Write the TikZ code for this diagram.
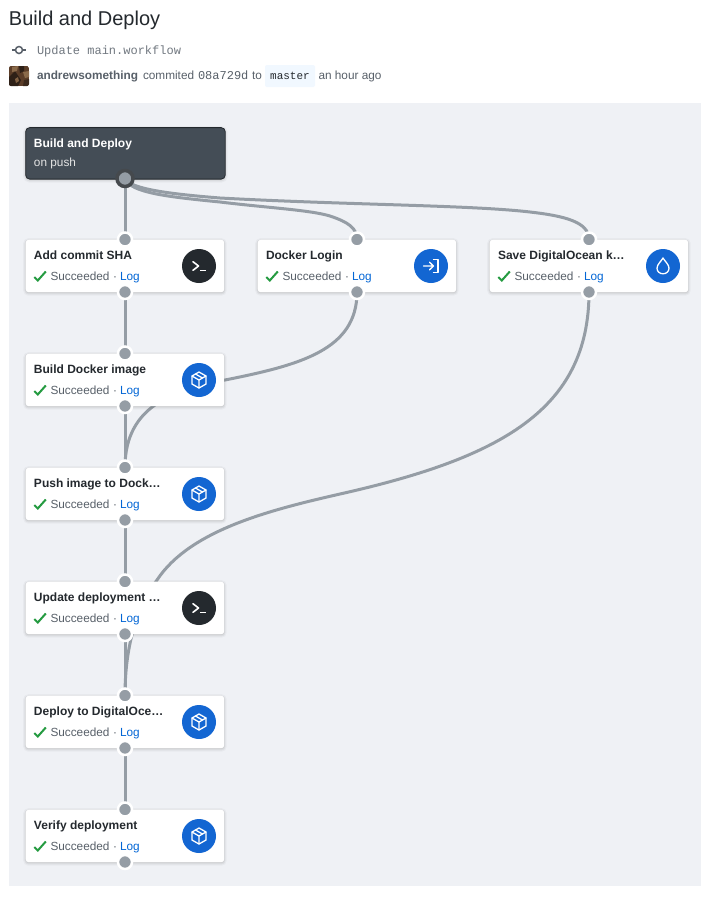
\documentclass[tikz,border=0pt]{standalone}
\usepackage{fontspec}
\setmainfont{Liberation Sans}
\setmonofont{Liberation Mono}
\usetikzlibrary{arrows.meta}
\pgfdeclarelayer{panel}
\pgfdeclarelayer{edges}
\pgfsetlayers{panel,edges,main}
\definecolor{panelbg}{HTML}{EFF1F5}
\definecolor{edgegrey}{HTML}{959DA5}
\definecolor{inkdark}{HTML}{24292E}
\definecolor{inkgrey}{HTML}{586069}
\definecolor{headbg}{HTML}{444D56}
\definecolor{iconblue}{HTML}{1366D2}
\definecolor{linkblue}{HTML}{0366D6}
\definecolor{okgreen}{HTML}{259B41}
\definecolor{chipbg}{HTML}{F1F8FF}
\definecolor{avbase}{HTML}{5B3D28}
\definecolor{avdark}{HTML}{2E2017}
\definecolor{avlight}{HTML}{8A6A4A}
\newcommand{\szfont}[1]{\fontsize{#1}{#1}\selectfont}
\tikzset{
  txt/.style={inner sep=0pt,outer sep=0pt,anchor=base west},
  softshadow/.style={
    preaction={draw=black,draw opacity=.03,line width=5pt,transform canvas={yshift=-1pt}},
    preaction={draw=black,draw opacity=.05,line width=2.5pt,transform canvas={yshift=-1pt}},
    preaction={draw=black,draw opacity=.06,line width=1pt,transform canvas={yshift=-.5pt}}},
  cardbox/.style={rectangle,rounded corners=3pt,fill=white,softshadow,minimum width=198.5pt,minimum height=52.5pt,inner sep=0pt,anchor=north west},
  headbox/.style={rectangle,rounded corners=4pt,fill=headbg,draw=inkdark,line width=.8pt,softshadow,minimum width=199.5pt,minimum height=51.5pt,inner sep=0pt,anchor=north west},
  port/.style={circle,fill=edgegrey,draw=white,line width=2.5pt,minimum size=14pt,inner sep=0pt},
  headport/.style={circle,fill=edgegrey,draw=inkdark!85!white,line width=3.5pt,minimum size=16pt,inner sep=0pt},
  flow/.style={draw=edgegrey,line width=3pt},
  iconbg/.style={circle,minimum size=34pt,inner sep=0pt},
  iconline/.style={draw=white,line width=1.3pt,line join=round,line cap=round},
  pics/termicon/.style={code={
    \draw[iconline,line width=1.6pt] (-6,-4.3) -- (-.5,0) -- (-6,4.3);
    \draw[iconline,line width=1.4pt,line cap=butt] (1,4.6) -- (7,4.6);}},
  pics/boxicon/.style={code={
    \draw[iconline] (0,-8) -- (7,-4) -- (7,4) -- (0,8) -- (-7,4) -- (-7,-4) -- cycle;
    \draw[iconline] (-7,-4) -- (0,0) -- (7,-4) (0,0) -- (0,8) (-3.5,-6) -- (3.5,-2);}},
  pics/loginicon/.style={code={
    \draw[iconline] (-7.5,0) -- (2.5,0) (-1.5,-3.8) -- (2.5,0) -- (-1.5,3.8);
    \draw[iconline] (2.5,-6.5) -- (7,-6.5) -- (7,6.5) -- (2.5,6.5);}},
  pics/dropicon/.style={code={
    \draw[iconline] (0,-8) .. controls (2,-4.5) and (6,-1.5) .. (6,2.2) .. controls (6,5.5) and (3.3,7.8) .. (0,7.8) .. controls (-3.3,7.8) and (-6,5.5) .. (-6,2.2) .. controls (-6,-1.5) and (-2,-4.5) .. (0,-8) -- cycle;}},
}
% name, left x, top y, title, icon pic, icon colour
\newcommand{\stepcard}[6]{%
  \node[cardbox] (#1) at (#2,#3) {};
  \node[txt,font=\bfseries\szfont{12},text=inkdark] (#1-title) at (#2+8.5,#3+19.5) {#4};
  \draw[draw=okgreen,line width=2pt] (#2+8.8,#3+37.5) -- (#2+12.3,#3+41) -- (#2+20.3,#3+32) ;
  \node[txt,font=\szfont{11.8},text=inkgrey] (#1-state) at (#2+25,#3+40.5) {Succeeded};
  \node[txt,font=\szfont{11.8},text=inkgrey] (#1-dot) at (#2+87.6,#3+40.5) {·};
  \node[txt,font=\szfont{11.8},text=linkblue] (#1-log) at (#2+94.5,#3+40.5) {Log};
  \node[iconbg,fill=#6] (#1-icon) at (#2+173.5,#3+26.5) {};
  \pic at (#1-icon.center) {#5};
  \node[port] (#1-in) at (#2+99.5,#3) {};
  \node[port] (#1-out) at (#2+99.5,#3+52.5) {};
}
\begin{document}
\begin{tikzpicture}[x=1pt,y=-1pt]
\useasboundingbox (0,0) rectangle (701,898);
\begin{pgfonlayer}{panel}
  \fill[white] (0,0) rectangle (701,898);
  \fill[panelbg] (9,103) rectangle (701,886);
\end{pgfonlayer}

% page header
\node[txt,font=\szfont{20},text=inkdark] (title) at (9,25) {Build and Deploy};
\coordinate (commitL) at (12,50);
\coordinate (commitR) at (26,50);
\node[circle,draw=inkgrey,line width=1.5pt,minimum size=7pt,inner sep=0pt] (commitdot) at (19,50) {};
\draw[draw=inkgrey,line width=1.5pt] (commitL) -- (commitdot) (commitdot) -- (commitR);
\node[txt,font=\ttfamily\szfont{12},text=inkgrey!85] (msg) at (37,54) {Update main.workflow};
% avatar
\begin{scope}
  \clip[rounded corners=2pt] (9,66) rectangle (29,86);
  \fill[avbase] (9,66) rectangle (29,86);
  \fill[avdark] (9,77) -- (15,71) -- (21,80) -- (18,86) -- (9,86) -- cycle;
  \fill[avlight] (12,67) -- (18,66) -- (17,71) -- (12,72) -- cycle;
  \fill[avlight] (23,72) -- (29,71) -- (29,77) -- (25,78) -- cycle;
  \fill[avdark] (19,66) -- (24,66) -- (24,71) -- (20,73) -- cycle;
  \fill[avlight!80!avbase] (15,79) -- (18,77) -- (19,81) -- (16,83) -- cycle;
  \fill[avdark!70!avbase] (24,80) -- (29,79) -- (29,86) -- (23,86) -- cycle;
\end{scope}
\node[txt,font=\bfseries\szfont{11.8},text=inkgrey] (author) at (37,79) {andrewsomething};
\node[txt,font=\szfont{11.8},text=inkgrey] (commited) at (143,79) {commited};
\node[txt,font=\ttfamily\szfont{12},text=inkgrey] (sha) at (198,79) {08a729d};
\node[txt,font=\szfont{11.8},text=inkgrey] (to) at (252,79) {to};
\node[rectangle,rounded corners=2pt,fill=chipbg,minimum width=50pt,minimum height=22pt,inner sep=0pt,font=\ttfamily\szfont{11},text=inkdark] (chip) at (290,76) {master};
\node[txt,font=\szfont{11.8},text=inkgrey] (ago) at (318.5,79) {an hour ago};

% trigger
\node[headbox] (head) at (25.3,127.2) {};
\node[txt,font=\bfseries\szfont{12},text=white] (head-title) at (34,147) {Build and Deploy};
\node[txt,font=\szfont{11.8},text=white!90!black] (head-sub) at (34,166) {on push};
\node[headport] (head-out) at (125,178.5) {};

% steps
\stepcard{sha}{25.5}{239.5}{Add commit SHA}{termicon}{inkdark}
\stepcard{login}{257.5}{239.5}{Docker Login}{loginicon}{iconblue}
\stepcard{dokey}{489.5}{239.5}{Save DigitalOcean k…}{dropicon}{iconblue}
\stepcard{build}{25.5}{353.5}{Build Docker image}{boxicon}{iconblue}
\stepcard{push}{25.5}{467.5}{Push image to Dock…}{boxicon}{iconblue}
\stepcard{update}{25.5}{581.5}{Update deployment …}{termicon}{inkdark}
\stepcard{deploy}{25.5}{695.5}{Deploy to DigitalOce…}{boxicon}{iconblue}
\stepcard{verify}{25.5}{809.5}{Verify deployment}{boxicon}{iconblue}

% connectors
\begin{pgfonlayer}{edges}
  \draw[flow] (head-out.center) -- (sha-in.center);
  \draw[flow] (sha-out.center) -- (build-in.center);
  \draw[flow] (build-out.center) -- (push-in.center);
  \draw[flow] (push-out.center) -- (update-in.center);
  \draw[flow] (update-out.center) -- (deploy-in.center);
  \draw[flow] (deploy-out.center) -- (verify-in.center);
  \draw[flow] (head-out.center) .. controls (130,193) and (170,197) .. (220,202) .. controls (270,208) and (310,210) .. (330,216) .. controls (348,222) and (357,228) .. (login-in.center);
  \draw[flow] (head-out.center) .. controls (130,189) and (170,194) .. (220,198) .. controls (350,205) and (470,205) .. (530,212) .. controls (565,216) and (589,222) .. (dokey-in.center);
  \draw[flow] (login-out.center) .. controls (357,350) and (300,365) .. (225,380) .. controls (175,390) and (125,405) .. (push-in.center);
  \draw[flow] (dokey-out.center) .. controls (589,410) and (500,458) .. (340,494) .. controls (270,510) and (190,530) .. (157,580) .. controls (135,610) and (125,650) .. (deploy-in.center);
\end{pgfonlayer}
\end{tikzpicture}
\end{document}
